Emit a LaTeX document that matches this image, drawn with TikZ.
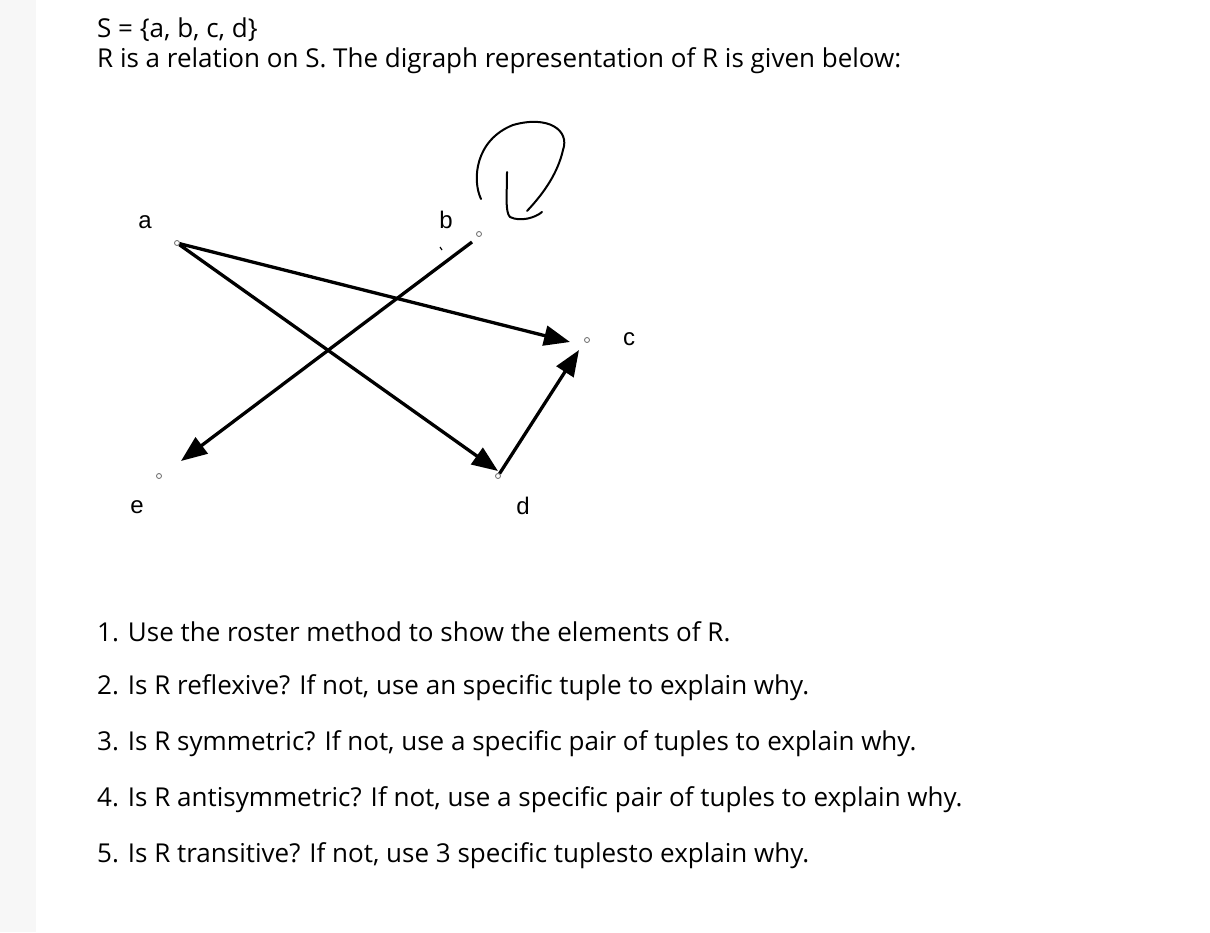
\documentclass[tikz,border=0pt]{standalone}
\usepackage{fontspec}
\setmainfont{Open Sans}
\newfontfamily\lblfont{Liberation Sans}
\usetikzlibrary{arrows.meta}
\begin{document}
\begin{tikzpicture}[x=1pt,y=-1pt,
  vert/.style={circle,draw=black!60,line width=0.8pt,inner sep=0pt,minimum size=5pt},
  lbl/.style={font=\fontsize{24}{28}\selectfont\lblfont},
  edge/.style={line width=3.3pt,-{Triangle[length=26pt,width=20pt]}},
  txt/.style={anchor=west,font=\fontsize{26}{30}\selectfont,inner sep=0pt}]
\useasboundingbox (0,0) rectangle (1210,932);
\fill[black!3] (0,0) rectangle (36,932);
\node[txt] (t1) at (97,30) {S = \{a, b, c, d\}};
\node[txt] (t2) at (97,61) {R is a relation on S. The digraph representation of R is given below:};
\node[vert] (a) at (177,243) {};
\node[vert] (b) at (479,234) {};
\node[vert] (c) at (587,340) {};
\node[vert] (d) at (498,476) {};
\node[vert] (e) at (159,476) {};
\node[lbl] (la) at (145,222) {a};
\node[lbl] (lb) at (446,220) {b};
\node[lbl] (lc) at (629,339) {c};
\node[lbl] (ld) at (523,506) {d};
\node[lbl] (le) at (137,507) {e};
\coordinate (bs) at (472,242);
\draw[edge] (a) -- (570,342) coordinate (ct);
\draw[edge] (a) -- (498,471) coordinate (dt);
\draw[edge] (bs) -- (181,461) coordinate (ee);
\draw[edge] (d) -- (579,350) coordinate (ct2);
\draw[line width=1.2pt] (440,247) -- (442,250);
\draw[line width=2pt,line cap=round] (481,199) .. controls (472,180) and (475,140) .. (513,125) .. controls (548,115) and (570,130) .. (563,150) .. controls (558,172) and (545,192) .. (527,211);
\draw[line width=2pt,line cap=round] (507,172) .. controls (507,195) and (505,212) .. (510,217) .. controls (520,222) and (535,218) .. (542,212);
\node[txt] (q1) at (97,632) {1. Use the roster method to show the elements of R.};
\node[txt] (q2) at (97,688) {2. Is R reflexive? If not, use an specific tuple to explain why.};
\node[txt] (q3) at (97,744) {3. Is R symmetric? If not, use a specific pair of tuples to explain why.};
\node[txt] (q4) at (97,800) {4. Is R antisymmetric? If not, use a specific pair of tuples to explain why.};
\node[txt] (q5) at (97,856) {5. Is R transitive? If not, use 3 specific tuplesto explain why.};
\end{tikzpicture}
\end{document}
